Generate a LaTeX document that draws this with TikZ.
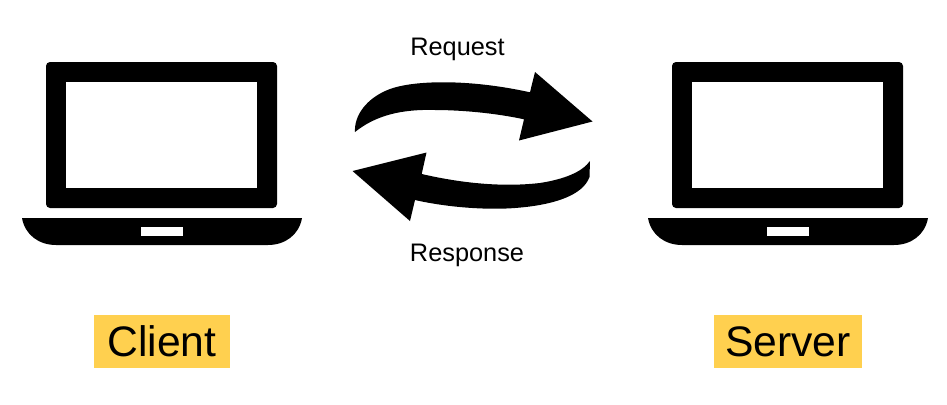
\documentclass[tikz,border=0pt]{standalone}
\usepackage{fontspec}
\setmainfont{Liberation Sans}
\definecolor{tagyellow}{HTML}{FFD04F}
\tikzset{
  px/.style={x=0.75pt,y=-0.75pt},
  solidpart/.style={fill=black,draw=none},
  hole/.style={fill=white,draw=none},
  tag/.style={fill=tagyellow,inner sep=0pt,font=\fontsize{32pt}{32pt}\selectfont,text=black,anchor=center,text height=24pt,text depth=1pt},
  caption/.style={inner sep=0pt,font=\fontsize{19pt}{19pt}\selectfont,text=black,anchor=center}
}
\newcommand{\laptopicon}[1]{%
  \begin{scope}[shift={(#1,0)}]
    \fill[solidpart,rounded corners=3pt] (46,62) rectangle (277,208);
    \fill[hole] (66,82) rectangle (257,188);
    \fill[solidpart] (22,218) -- (302,218) .. controls (299,235) and (285,245) .. (268,245)
      -- (56,245) .. controls (39,245) and (25,235) .. (22,218) -- cycle;
    \fill[hole] (141,227) rectangle (183,236);
  \end{scope}}
\begin{document}
\begin{tikzpicture}[px]
\useasboundingbox (0,0) rectangle (947,404);
\fill[white] (0,0) rectangle (947,404);
\laptopicon{0}
\laptopicon{626}
% request arrow
\fill[solidpart] (355,132) .. controls (354,116) and (366,98) .. (390,89)
  .. controls (415,80) and (470,79) .. (530,92.3) -- (535,72) -- (592.5,121.5) -- (519,140.5) -- (524,119.3)
  .. controls (490,112) and (455,110) .. (435,110) .. controls (400,109) and (375,116) .. (355,132) -- cycle;
% response arrow
\fill[solidpart] (590,161) .. controls (582,172) and (565,179) .. (540,183)
  .. controls (505,187) and (465,184) .. (421.7,174) -- (426.5,152.5) -- (352.5,171) -- (410,221) -- (415,200)
  .. controls (450,208) and (490,210) .. (515,208) .. controls (555,205) and (583,195) .. (589.5,177) -- cycle;
\node[caption] (request) at (457.5,49.5) {Request};
\node[caption] (response) at (467,255.5) {Response};
\node[tag,minimum width=102pt,minimum height=39.75pt] (client) at (162,341.5) {Client};
\node[tag,minimum width=111pt,minimum height=39.75pt] (server) at (788,341.5) {Server};
\end{tikzpicture}
\end{document}
